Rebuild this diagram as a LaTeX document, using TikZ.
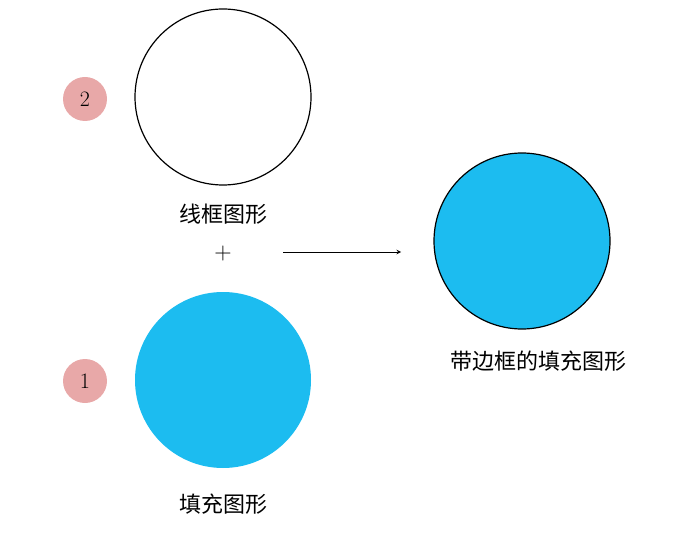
\documentclass[tikz,border=0pt]{standalone}
\usepackage{fontspec}
\newfontfamily\cjk{Noto Sans CJK SC}
\definecolor{cy}{HTML}{1CBCF0}
\definecolor{pk}{HTML}{E8A8A8}
\begin{document}
\begin{tikzpicture}[x=1pt,y=-1pt,
  badge/.style={circle,fill=pk,minimum size=44pt,inner sep=0pt,font=\fontsize{22}{22}\selectfont},
  lbl/.style={font=\cjk\fontsize{22}{22}\selectfont,inner sep=0pt}]
\useasboundingbox (0,0) rectangle (687,545);
\node[circle,draw,line width=1.2pt,minimum size=176pt,inner sep=0pt] (top) at (223,97) {};
\node[circle,fill=cy,minimum size=176pt,inner sep=0pt] (bot) at (223,380) {};
\node[circle,draw,fill=cy,line width=1.2pt,minimum size=176pt,inner sep=0pt] (res) at (522,241) {};
\node[badge] (b2) at (85,99) {2};
\node[badge] (b1) at (85,381) {1};
\node[lbl] (t1) at (223,214) {线框图形};
\node[font=\fontsize{24}{24}\selectfont,inner sep=0pt] (plus) at (223,254) {+};
\node[lbl] (t2) at (538,361) {带边框的填充图形};
\node[lbl] (t3) at (223,504) {填充图形};
\coordinate (a1) at (283,252);
\coordinate (a2) at (401,252);
\draw[-stealth,line width=1pt] (a1) -- (a2);
\end{tikzpicture}
\end{document}
